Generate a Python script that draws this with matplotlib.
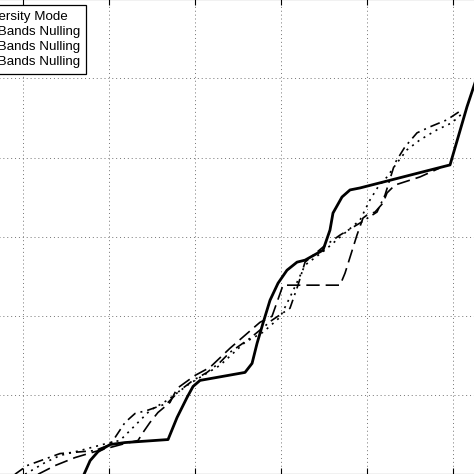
import numpy as np
import matplotlib
matplotlib.use("Agg")
import matplotlib.pyplot as plt

plt.rcParams['font.family'] = ['Liberation Sans', 'DejaVu Sans']

# curves (x: grid units, y: grid units)
div_x = [1.713, 1.784, 1.876, 2.016, 2.190, 2.690, 2.795, 2.911, 2.981, 3.062, 3.585, 3.667,
         3.725, 3.794, 3.876, 3.969, 4.073, 4.190, 4.283, 4.492, 4.573, 4.608, 4.713, 4.806,
         4.922, 5.969, 6.166, 6.271]
div_y = [0.0, 0.173, 0.287, 0.376, 0.401, 0.439, 0.718, 0.971, 1.110, 1.186, 1.287, 1.401,
         1.654, 1.908, 2.199, 2.414, 2.578, 2.680, 2.705, 2.832, 3.085, 3.300, 3.503, 3.592,
         3.617, 3.908, 4.642, 4.984]

n1_x = [1.178, 1.376, 1.608, 1.841, 2.190, 2.341, 2.399, 2.480, 2.573, 2.713, 2.795, 3.004,
        3.178, 3.410, 3.585, 3.759, 3.899, 4.027, 4.690, 4.748, 4.887, 4.957, 5.004, 5.097,
        5.190, 5.236, 5.329, 5.619, 5.852]
n1_y = [0.0, 0.110, 0.211, 0.287, 0.389, 0.427, 0.528, 0.655, 0.781, 0.908, 1.085, 1.249,
        1.351, 1.592, 1.756, 1.920, 1.996, 2.389, 2.389, 2.541, 3.022, 3.237, 3.275, 3.313,
        3.427, 3.554, 3.654, 3.756, 3.870]

n2_x = [0.910, 1.050, 1.434, 1.841, 2.016, 2.074, 2.190, 2.306, 2.445, 2.678, 2.829, 2.980,
        3.143, 3.294, 3.410, 3.643, 3.898, 4.108, 4.201, 4.283, 4.492, 4.690, 4.922, 5.120,
        5.213, 5.329, 5.445, 5.585, 5.736, 5.934, 6.108]
n2_y = [0.0, 0.110, 0.262, 0.300, 0.376, 0.465, 0.655, 0.768, 0.806, 0.895, 1.060, 1.186,
        1.287, 1.414, 1.541, 1.718, 1.946, 2.098, 2.389, 2.680, 2.870, 3.022, 3.174, 3.313,
        3.528, 3.933, 4.136, 4.313, 4.389, 4.478, 4.604]

n3_x = [1.027, 1.259, 1.434, 1.666, 2.016, 2.131, 2.248, 2.364, 2.480, 2.678, 2.945, 3.294,
        3.585, 3.794, 3.992, 4.108, 4.201, 4.283, 4.515, 4.690, 4.922, 5.038, 5.131, 5.236,
        5.352, 5.468, 5.619, 5.817, 5.991, 6.119]
n3_y = [0.0, 0.148, 0.237, 0.300, 0.401, 0.427, 0.553, 0.680, 0.806, 0.933, 1.148, 1.376,
        1.667, 1.794, 1.984, 2.237, 2.452, 2.642, 2.832, 2.996, 3.211, 3.465, 3.629, 3.756,
        3.933, 4.098, 4.224, 4.351, 4.440, 4.566]

labels = ["Diversity Mode", "16 Bands Nulling", "32 Bands Nulling", "64 Bands Nulling"]

fig = plt.figure(figsize=(4.74, 4.74), dpi=100)
# the reference is a crop: the axes run past the figure edges
ax = fig.add_axes([-63.3 / 474, -0.3 / 474, 602 / 474, 475 / 474])

ax.plot(div_x, div_y, color='k', linestyle='-', linewidth=2.0, label=labels[0])
ax.plot(n1_x, n1_y, color='k', linestyle=(0, (8, 3.6)), linewidth=1.2, label=labels[1])
ax.plot(n2_x, n2_y, color='k', linestyle=(0, (6, 3, 1.2, 3)), linewidth=1.2, label=labels[2])
ax.plot(n3_x, n3_y, color='k', linestyle=(0, (1.2, 3)), linewidth=1.2, label=labels[3])

ax.set_xlim(0, 7)
ax.set_ylim(0, 6)
ax.set_xticks(np.arange(0, 8))
ax.set_yticks(np.arange(0, 7))
ax.grid(True, color='0.45', linestyle=(0, (1, 3)), linewidth=0.7)
ax.tick_params(direction='in', length=4, top=True, right=True,
               labelbottom=False, labelleft=False)
for s in ax.spines.values():
    s.set_linewidth(0.8)

leg = ax.legend(loc='upper right', bbox_to_anchor=(86 / 474, 1 - 5 / 474),
                bbox_transform=fig.transFigure, borderaxespad=0, fontsize=9.6,
                labelspacing=0.2, fancybox=False, framealpha=1, borderpad=0.45,
                handlelength=2.5)
leg.get_frame().set_edgecolor('k')
leg.get_frame().set_linewidth(0.9)

fig.savefig("out.png", dpi=100)
